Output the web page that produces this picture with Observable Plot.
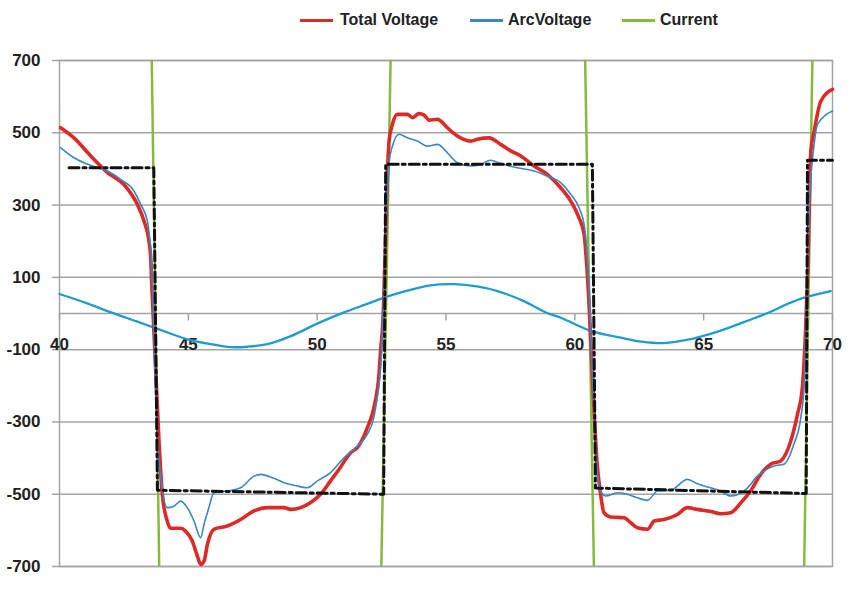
<!DOCTYPE html>
<html>
<head>
<meta charset="utf-8">
<script src="https://cdn.jsdelivr.net/npm/d3@7"></script>
<script src="https://cdn.jsdelivr.net/npm/@observablehq/plot@0.6"></script>
<style>
  html, body { margin: 0; padding: 0; background: #fff; }
  #wrap { width: 862px; height: 599px; position: relative; font-family: "Liberation Sans", Arial, sans-serif; }
  #legend { position: relative; width: 862px; height: 40px; }
  #legend .ln { position: absolute; top: 19px; height: 3px; }
  #legend .tx { position: absolute; top: 10px; font-size: 16px; font-weight: bold; color: #222; line-height: 19px; white-space: nowrap; }
</style>
</head>
<body>
<div id="wrap">
  <div id="legend"></div>
  <div id="chart"></div>
</div>
<script>
// ---- data ----
const xTicks = [40, 45, 50, 55, 60, 65, 70];
const yTicks = [700, 500, 300, 100, -100, -300, -500, -700];

const seriesNames = ["Total Voltage", "ArcVoltage", "Current"];
const seriesColors = ["#dc2a26", "#3b86c6", "#86ba3c"];

const totalVoltage = [
  [40.04,514],[40.56,486],[41.21,436],[41.86,390],[42.5,357],[43.02,302],[43.28,256],[43.47,201],[43.54,154],[43.58,80],
  [43.86,-353],[43.99,-500],[44.18,-574],[44.31,-594],[44.70,-594],[44.89,-602],[45.15,-629],[45.35,-671],[45.48,-694],[45.61,-685],[45.74,-639],[45.99,-597],[46.51,-588],[47.03,-570],[47.55,-546],[48.07,-537],[48.71,-537],[48.97,-542],[49.36,-537],[49.75,-523],[50.13,-500],[50.52,-463],[50.85,-431],[51.30,-385],[51.56,-371],[51.95,-316],[52.2,-261],[52.4,-168],[52.47,-95],[52.53,-48],
  [52.79,477],[52.92,523],[53.11,551],[53.50,551],[53.70,542],[53.95,553],[54.15,549],[54.34,535],[54.67,537],[55.05,514],[55.44,491],[55.96,477],[56.22,482],[56.67,486],[57.12,468],[57.51,450],[57.90,436],[58.42,408],[58.93,385],[59.45,348],[59.84,311],[60.16,265],[60.36,219],[60.46,136],
  [60.88,-427],[61.0,-500],[61.13,-551],[61.39,-563],[61.91,-565],[62.17,-579],[62.43,-593],[62.82,-597],[63.08,-574],[63.46,-570],[63.98,-556],[64.37,-537],[64.76,-542],[65.28,-548],[65.66,-554],[66.05,-551],[66.44,-524],[66.82,-491],[67.21,-445],[67.6,-417],[67.99,-408],[68.38,-353],[68.64,-279],[68.83,-205],[68.9,-131],[69.05,150],[69.16,450],[69.29,505],[69.55,588],[70.0,620]
];

const arcVoltage = [
  [40.04,459],[40.56,431],[40.95,417],[41.47,403],[41.86,394],[42.37,371],[42.89,339],[43.15,302],[43.41,256],[43.51,201],[43.55,170],
  [43.8,-353],[43.92,-445],[44.18,-537],[44.44,-533],[44.70,-519],[44.96,-537],[45.22,-574],[45.48,-620],[45.61,-583],[45.80,-537],[45.99,-496],[46.51,-491],[47.03,-482],[47.55,-450],[47.81,-445],[48.32,-456],[48.84,-471],[49.10,-475],[49.62,-482],[50.01,-463],[50.52,-440],[51.04,-399],[51.49,-371],[51.95,-334],[52.2,-288],[52.4,-196],[52.47,-141],
  [52.79,417],[52.92,463],[53.18,496],[53.50,486],[53.89,477],[54.28,463],[54.67,468],[55.05,445],[55.44,417],[55.96,408],[56.35,413],[56.73,424],[57.12,415],[57.77,403],[58.42,394],[58.93,380],[59.45,362],[59.84,330],[60.16,293],[60.38,237],[60.45,190],
  [60.88,-445],[61.0,-491],[61.2,-505],[61.65,-496],[62.04,-500],[62.43,-510],[62.82,-517],[63.21,-491],[63.72,-489],[64.37,-459],[64.76,-471],[65.15,-480],[65.66,-491],[66.05,-505],[66.57,-491],[66.82,-473],[67.02,-454],[67.34,-436],[67.73,-422],[68.12,-417],[68.5,-362],[68.77,-288],[68.9,-200],
  [69.1,300],[69.29,470],[69.42,523],[70,560]
];

// unlabelled smooth reference wave
const referenceWave = [
  [40,54],[41,30],[42,3],[43,-22],[43.67,-39],[45,-72],[46,-86],[46.64,-93],[47.3,-92],[48.07,-85],[49,-62],[50,-28],[51.04,3],[52,28],[52.6,44],[53.5,63],[54.4,78],[55.31,81],[56.2,75],[57.0,62],[58,35],[58.9,2],[59.5,-13],[60.62,-48],[61.78,-67],[62.6,-78],[63.46,-82],[64.5,-71],[65.2,-58],[65.8,-44],[66.7,-20],[67.6,5],[68.3,28],[68.9,44],[69.93,62]
];

// current: steep crossings, clipped by the plot frame
const currentTime  = [43.58, 43.87, 52.49, 52.85, 60.40, 60.74, 68.90, 69.22];
const currentValue = [700, -700, -700, 700, 700, -700, -700, 700];
const currentCycle = [1, 1, 2, 2, 3, 3, 4, 4];

// dash-dot square wave
const squareWave = [
  [40.37,403],[43.66,403],[43.8,-489],[52.58,-500],[52.66,413],[60.68,413],[60.8,-483],[68.98,-498],[69.03,424],[70,424]
];

// ---- legend ----
const legendLayout = [
  {line: 300, text: 340},
  {line: 470, text: 508},
  {line: 622, text: 660}
];
const legend = document.getElementById("legend");
seriesNames.forEach((name, i) => {
  const ln = document.createElement("span");
  ln.className = "ln";
  ln.style.left = legendLayout[i].line + "px";
  ln.style.width = "33px";
  ln.style.background = seriesColors[i];
  legend.appendChild(ln);
  const tx = document.createElement("span");
  tx.className = "tx";
  tx.style.left = legendLayout[i].text + "px";
  tx.textContent = name;
  legend.appendChild(tx);
});

// ---- chart ----
const grid = "#a3a3a3";
const currentData = currentTime.map((t, i) => ({t, v: currentValue[i], c: currentCycle[i]}));
const tickSymbol = { draw(ctx) { ctx.moveTo(0, 0); ctx.lineTo(0, 7); } };

const chart = Plot.plot({
  width: 862,
  height: 559,
  marginTop: 20,
  marginBottom: 33,
  marginLeft: 59,
  marginRight: 30,
  x: {domain: [40, 70], axis: null},
  y: {domain: [-700, 700]},
  style: {fontFamily: '"Liberation Sans", Arial, sans-serif', fontWeight: "bold", background: "#fff", color: "#222"},
  marks: [
    Plot.gridY(yTicks, {stroke: grid, strokeOpacity: 1, strokeWidth: 1.5}),
    Plot.ruleY([0], {stroke: grid, strokeWidth: 1.5}),
    Plot.frame({stroke: grid, strokeWidth: 1.5}),
    Plot.axisY(yTicks, {tickSize: 7, tickPadding: 12, fontSize: 17, stroke: grid, strokeWidth: 1.5, fill: "#222", tickFormat: d => String(d), label: null}),
    Plot.dot(xTicks, {x: d => d, y: 0, symbol: tickSymbol, stroke: grid, strokeWidth: 1.5, fill: "none", r: 4}),
    Plot.text(xTicks, {x: d => d, y: 0, dy: 31, text: d => String(d), fontSize: 17, fill: "#222"}),
    Plot.line(currentData, {x: "t", y: "v", z: "c", stroke: seriesColors[2], strokeWidth: 2.5, clip: true}),
    Plot.line(referenceWave, {x: d => d[0], y: d => d[1], stroke: "#1e9bd0", strokeWidth: 2.3, curve: "catmull-rom"}),
    Plot.line(totalVoltage, {x: d => d[0], y: d => d[1], stroke: seriesColors[0], strokeWidth: 3.6, curve: "monotone-x"}),
    Plot.line(arcVoltage, {x: d => d[0], y: d => d[1], stroke: seriesColors[1], strokeWidth: 1.6, curve: "monotone-x"}),
    Plot.line(squareWave, {x: d => d[0], y: d => d[1], stroke: "#111", strokeWidth: 3, strokeDasharray: "10,4,3,4"})
  ]
});
document.getElementById("chart").appendChild(chart);
</script>
</body>
</html>
